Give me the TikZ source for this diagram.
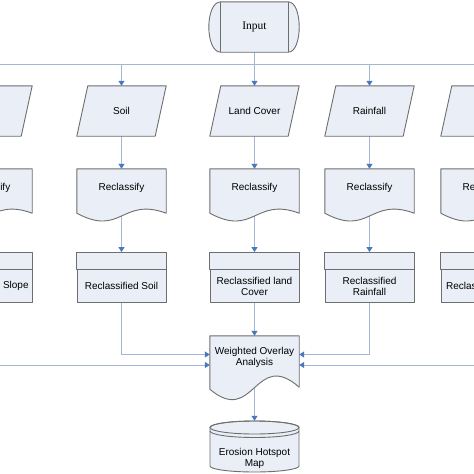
\documentclass[tikz,border=0pt]{standalone}
\usepackage{fontspec}
\setmainfont{Liberation Sans}
\newfontfamily\serifin{Liberation Serif}
\usetikzlibrary{arrows.meta,backgrounds}
\definecolor{shfill}{HTML}{E9EEF7}
\definecolor{shdraw}{HTML}{6E6E6E}
\definecolor{lnblue}{HTML}{A3B6D3}
\definecolor{tipblue}{HTML}{4A78BE}
\pgfdeclarelayer{bg}
\pgfdeclarelayer{edges}
\pgfsetlayers{bg,edges,background,main}
\tikzset{
  box/.style={rectangle, inner sep=0pt, minimum width=89pt, align=center, font=\fontsize{10}{11}\selectfont},
  shp/.style={draw=shdraw, fill=shfill, line width=0.9pt, line join=round},
  shl/.style={draw=shdraw, line width=0.9pt},
  conn/.style={draw=lnblue, line width=1pt, -{Triangle[width=6pt,length=5pt,color=tipblue]}},
}
\newcommand\flowcol[4]{%
  \node[box, minimum height=50pt] (#2p) at (#1,111) {#3};
  \node[box, minimum height=38pt] (#2r) at (#1,188) {Reclassify};
  \node[box, shp, minimum height=33pt] (#2b) at (#1,286) {#4};
  \begin{scope}[on background layer]
    \path[shp] (#2p.south west) -- ([xshift=-11pt]#2p.south east) -- (#2p.north east) -- ([xshift=11pt]#2p.north west) -- cycle;
    \path[shp] (#2r.north west) -- (#2r.north east) -- ([yshift=-6pt]#2r.south east)
      .. controls +(-44.5pt,16.5pt) and +(44.5pt,-24pt) .. ([yshift=-6pt]#2r.south west) -- cycle;
  \end{scope}
  \draw[shp] ([yshift=17pt]#2b.north west) rectangle (#2b.north east);
  \begin{pgfonlayer}{edges}
    \draw[conn] (inp.south) -- ++(0,12) -| (#2p.north);
    \draw[conn] (#2p.south) -- (#2r.north);
    \draw[conn] (#2r.south) -- ([yshift=17pt]#2b.north);
  \end{pgfonlayer}
}
\begin{document}
\begin{tikzpicture}[x=1pt,y=-1pt]
\useasboundingbox (0,0) rectangle (474,474);
\begin{pgfonlayer}{bg}
  \fill[white] (0,0) rectangle (474,474);
\end{pgfonlayer}
\clip (0,0) rectangle (474,474);
% Input
\node[rectangle, inner sep=0pt, minimum width=67pt, minimum height=50pt, font=\serifin\fontsize{11.5}{13}\selectfont] (inp) at (254.5,27) {Input};
\begin{scope}[on background layer]
  \path[shp] (inp.north west) -- (inp.north east) .. controls +(14.7pt,0) and +(14.7pt,0) .. (inp.south east)
    -- (inp.south west) .. controls +(-16pt,0) and +(-16pt,0) .. (inp.north west) -- cycle;
\end{scope}
\draw[shl] (inp.north west) -- (inp.south west);
\draw[shl] (inp.north east) -- (inp.south east);
% columns
\flowcol{-12.5}{slope}{Slope}{Reclassified Slope}
\flowcol{121.5}{soil}{Soil}{Reclassified Soil}
\flowcol{254.5}{land}{Land Cover}{Reclassified land\\Cover}
\flowcol{369.5}{rain}{Rainfall}{Reclassified\\Rainfall}
\flowcol{485.5}{dem}{DEM}{Reclassified DEM}
% weighted overlay
\node[box, minimum height=43pt] (wo) at (254.5,357.5) {Weighted Overlay\\Analysis};
\begin{scope}[on background layer]
  \path[shp] (wo.north west) -- (wo.north east) -- ([yshift=-8pt]wo.south east)
    .. controls +(-44.5pt,39pt) and +(44.5pt,-37.5pt) .. ([yshift=-10pt]wo.south west) -- cycle;
\end{scope}
% cylinder
\node[box, minimum height=75pt] (cyl) at (254.5,458.5) {Erosion Hotspot\\Map};
\begin{scope}[on background layer]
  \path[shp] (210,427.5) -- (210,466) arc[start angle=180, end angle=360, x radius=44.5pt, y radius=6pt]
    -- (299,427.5) arc[start angle=0, end angle=180, x radius=44.5pt, y radius=6.5pt] -- cycle;
  \draw[shl] (254.5,427.5) ellipse [x radius=44.5pt, y radius=6.5pt];
  \draw[shl] (210,431) arc[start angle=180, end angle=360, x radius=44.5pt, y radius=6.5pt];
\end{scope}
\begin{pgfonlayer}{edges}
  \draw[conn] (landb.south) -- (wo.north);
  \draw[conn] (soilb.south) |- ([yshift=3pt]wo.west);
  \draw[conn] (slopeb.south) |- ([yshift=-7.5pt]wo.west);
  \draw[conn] (rainb.south) |- ([yshift=3pt]wo.east);
  \draw[conn] (demb.south) |- ([yshift=-7.5pt]wo.east);
  \draw[conn] (wo.south) -- (cyl.north);
\end{pgfonlayer}
\end{tikzpicture}
\end{document}
